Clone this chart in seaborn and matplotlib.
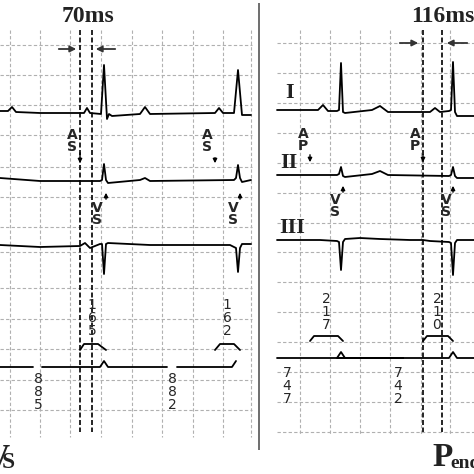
import pandas as pd
import seaborn as sns
import matplotlib.pyplot as plt

# ECG keypoints (pixel-like units, y grows downward)
L_I_x = [0, 8, 12, 16, 40, 84, 87, 90, 101, 104, 107, 109, 112, 140, 145, 150, 215, 219, 223, 234, 238, 242, 251]
L_I_y = [111, 111, 107, 112, 113, 113, 108, 113, 114, 65, 119, 114, 116, 114, 107, 114, 113, 108, 113, 113, 70, 115, 115]
L_II_x = [0, 40, 100, 102, 104, 106, 108, 140, 145, 150, 234, 236, 238, 240, 242, 251]
L_II_y = [178, 181, 181, 180, 164, 180, 183, 180, 178, 181, 180, 178, 165, 178, 182, 180]
L_III_x = [0, 40, 80, 85, 90, 100, 102, 104, 106, 108, 150, 230, 234, 236, 238, 240, 242, 251]
L_III_y = [245, 247, 246, 243, 248, 244, 244, 274, 244, 243, 245, 245, 247, 248, 272, 248, 244, 244]
R_I_x = [277, 318, 323, 328, 337, 339, 341, 343, 345, 372, 380, 388, 430, 435, 440, 449, 451, 453, 455, 457, 474]
R_I_y = [110, 110, 105, 111, 111, 110, 63, 112, 113, 110, 106, 112, 112, 108, 112, 111, 110, 62, 112, 116, 116]
R_II_x = [277, 320, 337, 339, 341, 343, 345, 372, 380, 388, 449, 451, 453, 455, 457, 474]
R_II_y = [175, 175, 175, 174, 167, 176, 177, 174, 171, 175, 176, 175, 167, 176, 178, 178]
R_III_x = [277, 320, 337, 339, 341, 343, 345, 360, 380, 410, 423, 430, 449, 451, 453, 455, 457, 474]
R_III_y = [240, 240, 241, 242, 270, 242, 239, 238, 239, 240, 240, 241, 242, 243, 275, 243, 240, 240]

# marker channel
L_mark_x = [0, 33, None, 42, 100, 104, 108, 167, None, 177, 232, 236]
L_mark_y = [367, 367, None, 367, 367, 361, 367, 367, None, 367, 367, 361]
L_brk = [([80, 84, 98, 106], [350, 344, 344, 350]), ([215, 220, 234, 240], [350, 344, 344, 350])]
R_mark_x = [277, 291, 392, None, 403, 337, 341, 345, 449, 453, 457, 474]
R_mark_y = [358, 358, 358, None, 358, 358, 352, 358, 358, 352, 358, 358]
R_brk = [([310, 314, 338, 343], [341, 336, 336, 341]), ([423, 427, 448, 453], [341, 336, 336, 341])]

mark_nums = [("1\n6\n5", 92, 318), ("1\n6\n2", 227, 318), ("8\n8\n5", 38, 392), ("8\n8\n2", 172, 392),
             ("2\n1\n7", 326, 312), ("2\n1\n0", 437, 312), ("7\n4\n7", 287, 386), ("7\n4\n2", 398, 386)]
event_lbl = [("A\nS", 72, 141, 80, 150, 166), ("A\nS", 207, 141, 215, 155, 166),
             ("V\nS", 97, 214, 106, 202, 190), ("V\nS", 233, 214, 240, 202, 190),
             ("A\nP", 303, 140, 310, 152, 165), ("A\nP", 415, 140, 423, 152, 165),
             ("V\nS", 335, 206, 343, 195, 183), ("V\nS", 446, 206, 453, 195, 183)]

grid_lx = [10, 40, 70, 101, 132, 162, 193, 223, 251]
grid_rx = [300, 330, 360, 390, 421, 450]
grid_ly = [45, 75, 105, 135, 167, 197, 227, 252, 288, 319, 349, 380, 410]
grid_ry = [43, 73, 103, 133, 163, 193, 223, 252, 282, 312, 342, 372, 402, 432]

sns.set_style('white')
fig = plt.figure(figsize=(4.74, 4.74), dpi=100)
ax = fig.add_axes([0, 0, 1, 1])
ax.set_xlim(0, 474)
ax.set_ylim(474, 0)
ax.axis('off')

gkw = dict(color='#b0b0b0', lw=0.8, ls=(0, (3, 2)))
ax.vlines(grid_lx, 30, 437, **gkw)
ax.hlines(grid_ly, 0, 252, **gkw)
ax.vlines(grid_rx, 30, 435, **gkw)
ax.hlines(grid_ry, 277, 474, **gkw)
ax.vlines(259, 3, 450, color='#555555', lw=1.2)

tk = dict(color='black', lw=1.3, sort=False, estimator=None, ax=ax, legend=False)
for xs, ys in [(L_I_x, L_I_y), (L_II_x, L_II_y), (L_III_x, L_III_y),
               (R_I_x, R_I_y), (R_II_x, R_II_y), (R_III_x, R_III_y)]:
    sns.lineplot(x=xs, y=ys, **tk)
for xs, ys in [(L_mark_x, L_mark_y), (R_mark_x, R_mark_y)]:
    seg_x, seg_y = [], []
    for a, b in zip(xs + [None], ys + [None]):
        if a is None:
            if seg_x:
                sns.lineplot(x=seg_x, y=seg_y, **tk)
            seg_x, seg_y = [], []
        else:
            seg_x.append(a)
            seg_y.append(b)
for xs, ys in L_brk + R_brk:
    sns.lineplot(x=xs, y=ys, **tk)

for x in [80, 92, 423, 442]:
    ax.vlines(x, 30, 432, color='black', lw=1.2, ls=(0, (3, 1.5)))
for x0, x1, y in [(56, 79, 49), (118, 93, 49), (397, 421, 43), (470, 444, 43)]:
    ax.annotate('', xy=(x1, y), xytext=(x0, y),
                arrowprops=dict(arrowstyle='-|>', color='#333333', lw=1.3, mutation_scale=9))

for t, x, y in mark_nums:
    ax.text(x, y, t, ha='center', va='center', fontsize=10, linespacing=0.9, family='DejaVu Sans')
for t, x, y, ax_x, ay0, ay1 in event_lbl:
    ax.text(x, y, t, ha='center', va='center', fontsize=10, fontweight='bold', linespacing=0.9)
    ax.annotate('', xy=(ax_x, ay1), xytext=(ax_x, ay0),
                arrowprops=dict(arrowstyle='-|>', color='black', lw=1, mutation_scale=6))

serif = dict(family='Liberation Serif', fontweight='bold', color='#222222')
ax.text(88, 16, '70ms', ha='center', va='center', fontsize=17, **serif)
ax.text(443, 16, '116ms', ha='center', va='center', fontsize=17, **serif)
ax.text(290, 93, 'I', ha='center', va='center', fontsize=16, **serif)
ax.text(289, 163, 'II', ha='center', va='center', fontsize=16, **serif)
ax.text(292, 228, 'III', ha='center', va='center', fontsize=16, **serif)
ax.text(-14, 458, 'V', ha='left', va='center', fontsize=24, **serif)
ax.text(2, 463, 'S', ha='left', va='center', fontsize=17, **serif)
ax.text(432, 458, 'P', ha='left', va='center', fontsize=24, **serif)
ax.text(450, 463, 'end', ha='left', va='center', fontsize=14, **serif)

fig.savefig('out.png', dpi=100)
